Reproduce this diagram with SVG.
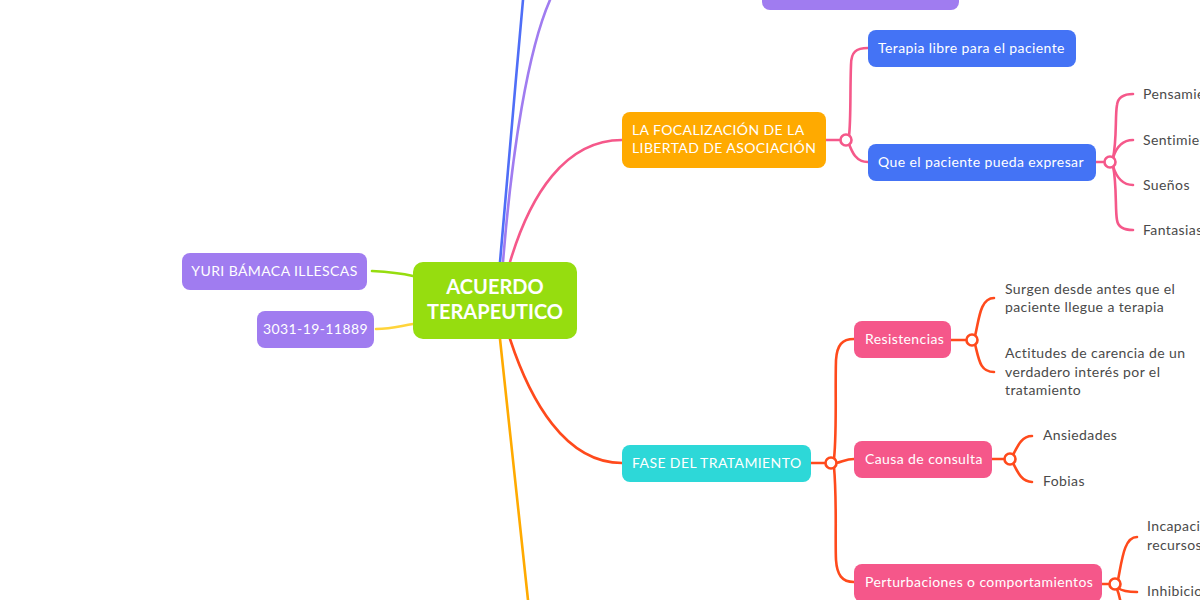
<svg xmlns="http://www.w3.org/2000/svg" width="1200" height="600" viewBox="0 0 1200 600">
<style>
.n{stroke:none}
.t{font-family:Lato,"Noto Sans","Liberation Sans",sans-serif;font-size:14px;letter-spacing:0.4px;fill:#ffffff}
.c{font-family:Lato,"Noto Sans","Liberation Sans",sans-serif;font-size:20px;font-weight:bold;fill:#ffffff}
.l{font-family:Lato,"Noto Sans","Liberation Sans",sans-serif;font-size:14px;letter-spacing:0.4px;fill:#4a4a4a}
.e{fill:none;stroke-width:2.6;stroke-linecap:round}
.pk{stroke:#F5588A}
.rd{stroke:#FF4A1C}
.dot{fill:#ffffff;stroke-width:2.6}
</style>
<rect width="1200" height="600" fill="#ffffff"/>
<g id="connectors">
<path class="e" stroke="#4F6EF7" d="M500,262 C505,200 515,90 523,0"/>
<path class="e" stroke="#A07CF0" d="M503,262 C512,150 528,50 550,0"/>
<path class="e pk" d="M510,262 C530,195 565,140 622,140"/>
<path class="e rd" d="M510,339 C530,400 565,463 622,463"/>
<path class="e" stroke="#FFAA00" d="M500,339 L528,600"/>
<path class="e" stroke="#96DD0F" d="M372,271 C390,272 400,273 413,276"/>
<path class="e" stroke="#FFD43B" d="M376,329 C392,329 400,326 413,324"/>
<path class="e pk" d="M826,140 L841,140"/>
<path class="e pk" d="M849,136 C851,120 850,90 851,65 C851,52 856,48 868,48"/>
<path class="e pk" d="M849,144 C852,152 856,162 868,162"/>
<path class="e pk" d="M1096,162 L1105,162"/>
<path class="e pk" d="M1113,158 C1117,140 1115,115 1117,105 C1118,97 1124,94 1133,94"/>
<path class="e pk" d="M1113,158 C1116,148 1122,140 1133,140"/>
<path class="e pk" d="M1113,166 C1116,176 1122,185 1133,185"/>
<path class="e pk" d="M1113,166 C1117,185 1115,210 1117,220 C1118,227 1124,230 1133,230"/>
<path class="e rd" d="M811,463 L826,463"/>
<path class="e rd" d="M834,459 C837,430 835,390 836,360 C837,345 842,339 854,339"/>
<path class="e rd" d="M836,463 C842,462 846,459 854,459"/>
<path class="e rd" d="M834,467 C837,500 835,540 836,560 C837,575 842,582 854,582"/>
<path class="e rd" d="M951,340 L967,340"/>
<path class="e rd" d="M975,336 C979,320 980,298 994,298"/>
<path class="e rd" d="M975,344 C979,360 980,372 994,372"/>
<path class="e rd" d="M992,459 L1005,459"/>
<path class="e rd" d="M1013,455 C1018,445 1022,436 1032,436"/>
<path class="e rd" d="M1013,463 C1018,473 1022,482 1032,482"/>
<path class="e rd" d="M1102,584 L1110,584"/>
<path class="e rd" d="M1118,580 C1122,560 1124,537 1137,537"/>
<path class="e rd" d="M1118,588 C1122,591 1127,592 1137,592"/>
<path class="e rd" d="M1117,589 C1119,594 1120,598 1121,605"/>
<circle class="dot pk" cx="846" cy="140" r="5.5"/>
<circle class="dot pk" cx="1110" cy="162" r="5.5"/>
<circle class="dot rd" cx="831" cy="463" r="5.5"/>
<circle class="dot rd" cx="972" cy="340" r="5.5"/>
<circle class="dot rd" cx="1010" cy="459" r="5.5"/>
<circle class="dot rd" cx="1115" cy="584" r="5.5"/>
</g>
<g id="top-purple"><rect class="n" x="762" y="-30" width="197" height="40" rx="8" fill="#A07CF0"/></g>
<g id="center"><rect class="n" x="413" y="262" width="164" height="77" rx="10" fill="#96DD0F"/>
<text class="c" x="495" y="294" text-anchor="middle">ACUERDO</text>
<text class="c" x="495" y="319" text-anchor="middle">TERAPEUTICO</text></g>
<g id="yuri"><rect class="n" x="182" y="253" width="185" height="37" rx="8" fill="#A07CF0"/>
<text class="t" x="274.5" y="276" text-anchor="middle">YURI BÁMACA ILLESCAS</text></g>
<g id="carne"><rect class="n" x="257" y="311" width="117" height="37" rx="8" fill="#A07CF0"/>
<text class="t" x="315.5" y="334" text-anchor="middle">3031-19-11889</text></g>
<g id="focalizacion"><rect class="n" x="622" y="112" width="204" height="56" rx="8" fill="#FFAA00"/>
<text class="t" x="632" y="135">LA FOCALIZACIÓN DE LA</text>
<text class="t" x="632" y="153">LIBERTAD DE ASOCIACIÓN</text></g>
<g id="terapia"><rect class="n" x="868" y="30" width="208" height="37" rx="8" fill="#4473F5"/>
<text class="t" x="878" y="53">Terapia libre para el paciente</text></g>
<g id="expresar"><rect class="n" x="868" y="144" width="228" height="37" rx="8" fill="#4473F5"/>
<text class="t" x="878" y="167">Que el paciente pueda expresar</text></g>
<g id="pensamientos"><text class="l" x="1143" y="99">Pensamientos</text></g>
<g id="sentimientos"><text class="l" x="1143" y="145">Sentimientos</text></g>
<g id="suenos"><text class="l" x="1143" y="190">Sueños</text></g>
<g id="fantasias"><text class="l" x="1143" y="235">Fantasias</text></g>
<g id="fase"><rect class="n" x="622" y="445" width="189" height="37" rx="8" fill="#2DD8D8"/>
<text class="t" x="632" y="468">FASE DEL TRATAMIENTO</text></g>
<g id="resistencias"><rect class="n" x="854" y="321" width="97" height="37" rx="8" fill="#F5578A"/>
<text class="t" x="865" y="344">Resistencias</text></g>
<g id="surgen"><text class="l" x="1005" y="294">Surgen desde antes que el</text>
<text class="l" x="1005" y="312">paciente llegue a terapia</text></g>
<g id="actitudes"><text class="l" x="1005" y="358">Actitudes de carencia de un</text>
<text class="l" x="1005" y="377">verdadero interés por el</text>
<text class="l" x="1005" y="395">tratamiento</text></g>
<g id="causa"><rect class="n" x="854" y="441" width="138" height="37" rx="8" fill="#F5578A"/>
<text class="t" x="865" y="464">Causa de consulta</text></g>
<g id="ansiedades"><text class="l" x="1043" y="440">Ansiedades</text></g>
<g id="fobias"><text class="l" x="1043" y="486">Fobias</text></g>
<g id="perturbaciones"><rect class="n" x="854" y="564" width="248" height="38" rx="8" fill="#F5578A"/>
<text class="t" x="865" y="587">Perturbaciones o comportamientos</text></g>
<g id="incapacidad"><text class="l" x="1147" y="531">Incapacidad</text>
<text class="l" x="1147" y="550">recursos</text></g>
<g id="inhibicion"><text class="l" x="1147" y="596">Inhibiciones</text></g>
</svg>
